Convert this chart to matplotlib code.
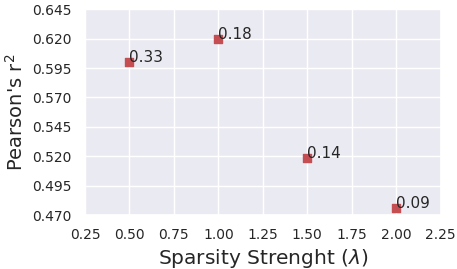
import matplotlib
matplotlib.use("Agg")
import matplotlib.pyplot as plt
import seaborn as sns

sns.set_theme(style="darkgrid")
plt.rcParams['font.family'] = ['DejaVu Sans']

lambdas = [0.5, 1.0, 1.5, 2.0]
pearson_r2 = [0.6004, 0.6195, 0.519, 0.4762]
labels = ["0.33", "0.18", "0.14", "0.09"]
xticks = [0.25, 0.50, 0.75, 1.00, 1.25, 1.50, 1.75, 2.00, 2.25]
yticks = [0.470, 0.495, 0.520, 0.545, 0.570, 0.595, 0.620, 0.645]

fig, ax = plt.subplots(figsize=(4.57, 2.69), dpi=100)
ax.scatter(lambdas, pearson_r2, marker='s', color='#C44E52', s=40, zorder=3)
for x, y, t in zip(lambdas, pearson_r2, labels):
    ax.annotate(t, (x, y), fontsize=11, color='#262626')
ax.set_xlim(0.25, 2.25)
ax.set_ylim(0.470, 0.645)
ax.set_xticks(xticks)
ax.set_xticklabels([f"{v:.2f}" for v in xticks])
ax.set_yticks(yticks)
ax.set_yticklabels([f"{v:.3f}" for v in yticks])
ax.tick_params(labelsize=10)
ax.set_xlabel(r"Sparsity Strenght ($\lambda$)", fontsize=14.5, labelpad=3)
ax.set_ylabel(r"Pearson's r$^2$", fontsize=14)
fig.subplots_adjust(left=0.186, right=0.964, top=0.966, bottom=0.2)
fig.savefig("out.png", dpi=100)
